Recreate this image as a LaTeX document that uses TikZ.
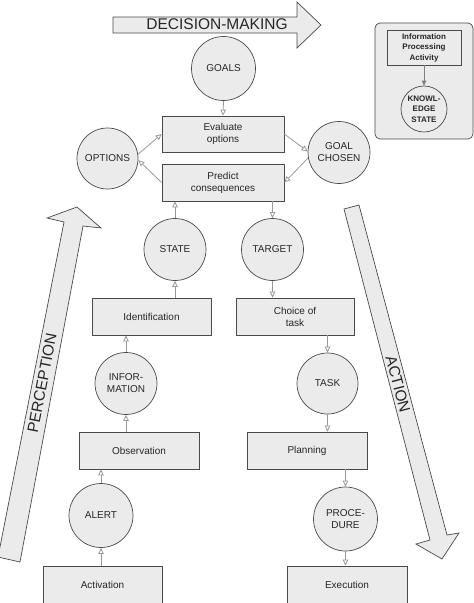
\documentclass[tikz,border=0pt]{standalone}
\usepackage{fontspec}
\setmainfont{Liberation Sans}
\usetikzlibrary{arrows.meta}
\definecolor{nodefill}{HTML}{EBEBEB}
\definecolor{nodeline}{HTML}{4A4A4A}
\definecolor{conn}{HTML}{999999}
\begin{document}
\begin{tikzpicture}[x=1pt,y=-1pt,
  every node/.style={font=\fontsize{10}{12}\selectfont, text=black!85},
  boxnode/.style={draw=nodeline, fill=nodefill, line width=0.7pt, rectangle, inner sep=0pt, align=center},
  circnode/.style={draw=nodeline, fill=nodefill, line width=0.7pt, circle, inner sep=0pt, align=center},
  bigarrow/.style={draw=nodeline, fill=nodefill, line width=0.7pt, line join=miter},
  conarrow/.style={draw=conn, line width=0.8pt, -{Triangle[open,length=6pt,width=5.5pt]}},
  insetarrow/.style={draw=gray, line width=0.8pt, -{Triangle[length=5pt,width=4.5pt]}},
  insettext/.style={font=\fontsize{8}{10.5}\selectfont\bfseries}
]
\useasboundingbox (0,0) rectangle (474,603);

% big arrows
\draw[bigarrow] (113,17) -- (297,17) -- (297,2) -- (321,25) -- (297,48) -- (297,33) -- (113,33) -- cycle;
\node[font=\fontsize{15.5}{18}\selectfont] (dm) at (217,24) {DECISION-MAKING};

\draw[bigarrow] (77,207) -- (101,228) -- (83,226) -- (20,562) -- (-2,557) -- (64,222) -- (47,218) -- cycle;
\node[font=\fontsize{15.5}{18}\selectfont, rotate=79] (perc) at (42,383) {PERCEPTION};

\draw[bigarrow] (344,209) -- (359,205) -- (447,535) -- (459,533) -- (442,559) -- (416,544) -- (430,540) -- cycle;
\node[font=\fontsize{15.5}{18}\selectfont, rotate=-75.3] (act) at (398,384) {ACTION};

% inset legend
\draw[draw=nodeline, fill=nodefill, line width=0.7pt, rounded corners=5pt] (375,23) rectangle (473,139);
\node[boxnode, insettext, minimum width=74pt, minimum height=35pt] (ipa) at (424,47.5) {Information\\Processing\\Activity};
\node[circnode, insettext, minimum size=46pt] (ks) at (424,109) {KNOWL-\\EDGE\\STATE};
\draw[insetarrow] (ipa.south) -- (ks.north);

% decision nodes
\node[circnode, minimum size=64pt] (goals) at (223.5,68.5) {GOALS};
\node[boxnode, minimum width=122pt, minimum height=36pt] (eval) at (223,134) {Evaluate\\options};
\node[boxnode, minimum width=122pt, minimum height=37pt] (pred) at (223,182.5) {Predict\\consequences};
\node[circnode, minimum size=61pt] (opt) at (107.5,158.5) {OPTIONS};
\node[circnode, minimum size=62pt] (gc) at (339,152.5) {GOAL\\CHOSEN};

\node[circnode, minimum size=62pt] (state) at (175,249.5) {STATE};
\node[circnode, minimum size=62pt] (target) at (272.5,249.5) {TARGET};

\node[boxnode, minimum width=119pt, minimum height=37pt] (ident) at (151.5,316.5) {Identification};
\node[boxnode, minimum width=118pt, minimum height=37pt] (choice) at (295,316.5) {Choice of\\task};

\node[circnode, minimum size=62pt] (info) at (126,383.5) {INFOR-\\MATION};
\node[circnode, minimum size=61pt] (task) at (327.5,383.5) {TASK};

\node[boxnode, minimum width=120pt, minimum height=37pt] (obs) at (139,450.5) {Observation};
\node[boxnode, minimum width=120pt, minimum height=37pt] (plan) at (307,450.5) {Planning};

\node[circnode, minimum size=64pt] (alert) at (101,515.5) {ALERT};
\node[circnode, minimum size=64pt] (proc) at (345.5,519) {PROCE-\\DURE};

\node[boxnode, minimum width=119pt, minimum height=38pt] (activ) at (102.5,585) {Activation};
\node[boxnode, minimum width=120pt, minimum height=38pt] (exec) at (347,585) {Execution};

% connectors
\draw[conarrow] (goals.south) -- (eval.north);
\draw[conarrow] (opt.8) -- (eval.west);
\draw[conarrow] (pred.west) -- (opt.-3);
\draw[conarrow] (eval.east) -- (gc.178);
\draw[conarrow] (gc.190) -- (pred.east);

\draw[conarrow] (state.north) -- (state.north |- pred.south);
\draw[conarrow] (target.north |- pred.south) -- (target.north);
\draw[conarrow] (state.south |- ident.north) -- (state.south);
\draw[conarrow] (target.south) -- (target.south |- choice.north);

\draw[conarrow] (info.north) -- (info.north |- ident.south);
\draw[conarrow] (task.north |- choice.south) -- (task.north);
\draw[conarrow] (info.south |- obs.north) -- (info.south);
\draw[conarrow] (task.south) -- (task.south |- plan.north);

\draw[conarrow] (alert.north) -- (alert.north |- obs.south);
\draw[conarrow] (proc.north |- plan.south) -- (proc.north);
\draw[conarrow] (alert.south |- activ.north) -- (alert.south);
\draw[conarrow] (proc.south) -- (proc.south |- exec.north);
\end{tikzpicture}
\end{document}
